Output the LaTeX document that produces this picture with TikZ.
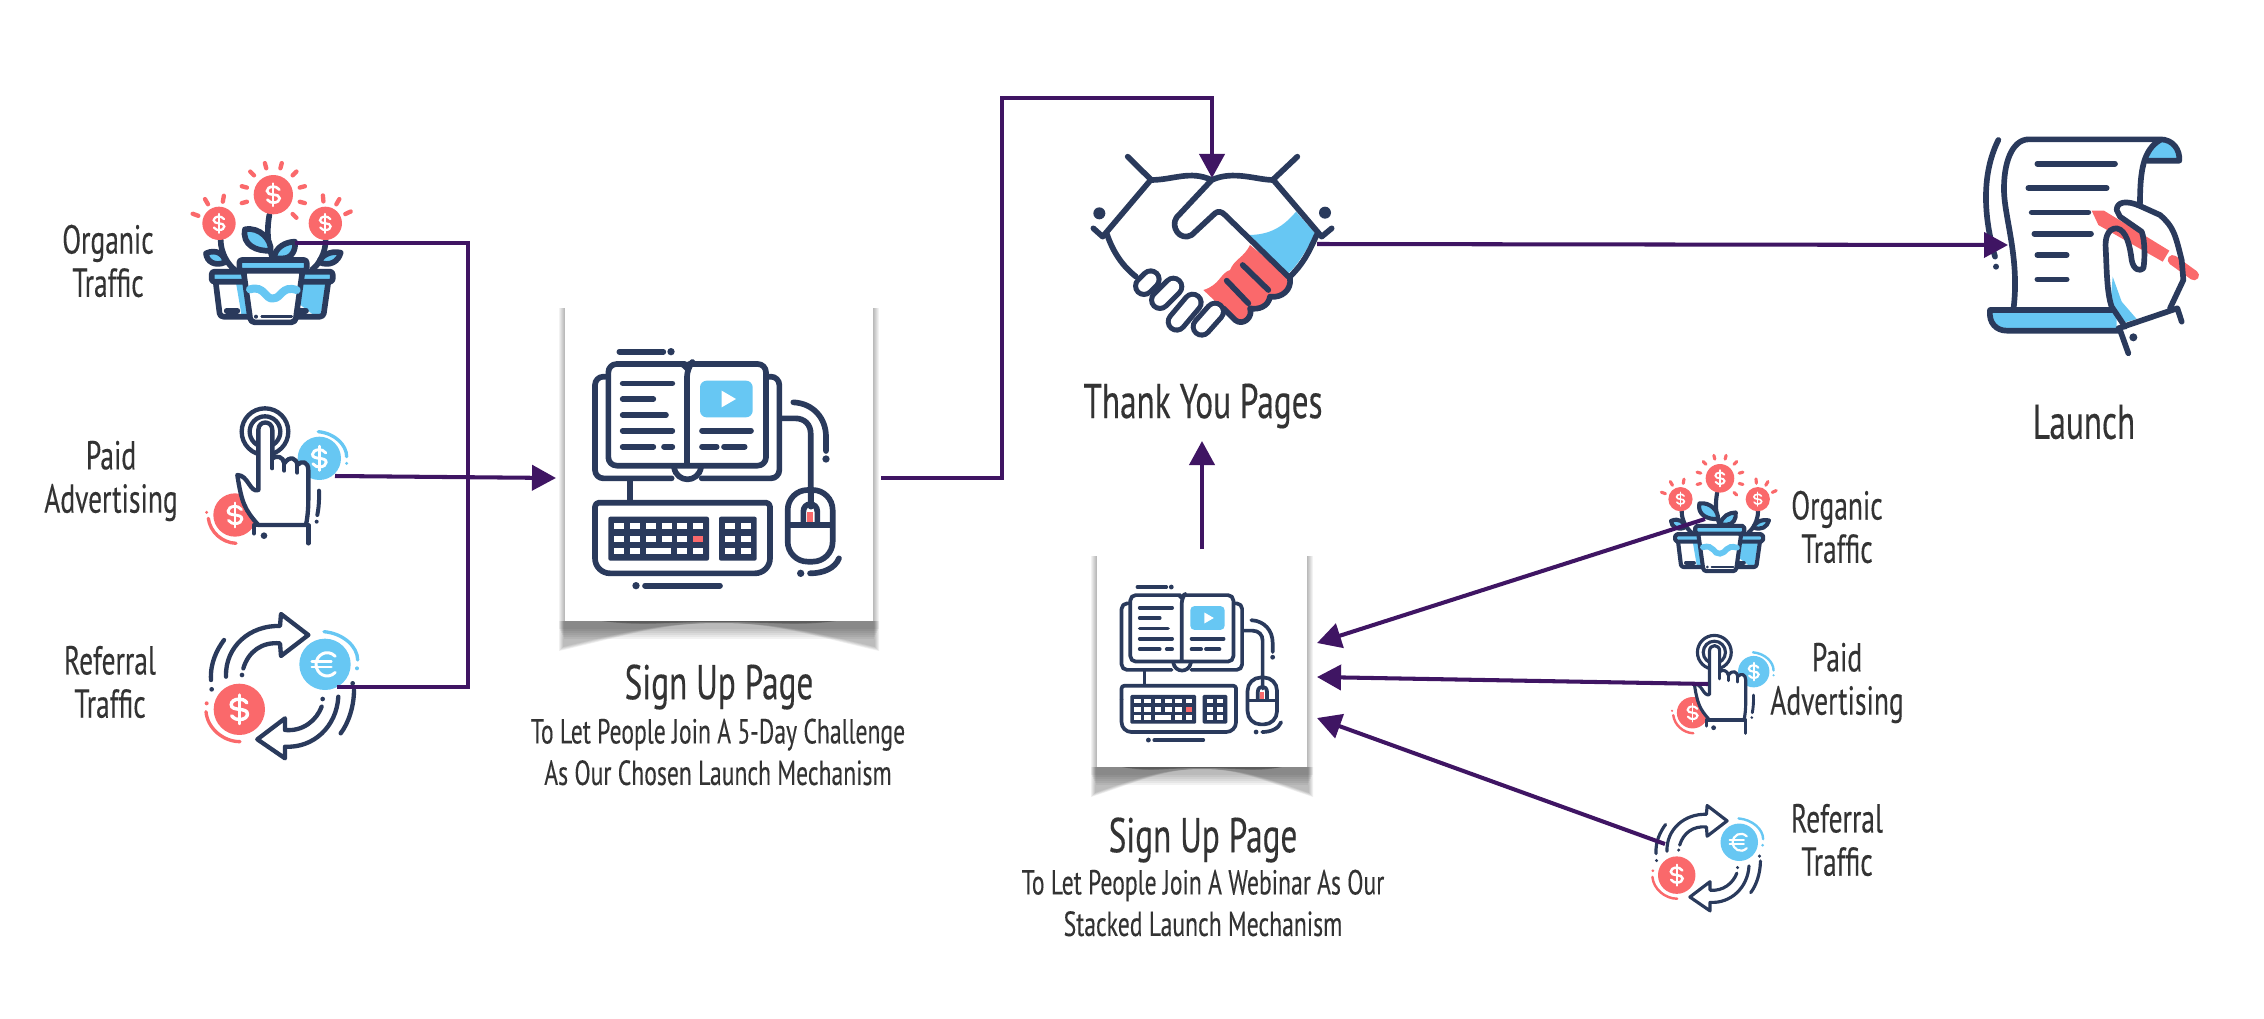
\documentclass[tikz,border=0pt]{standalone}
\usepackage{fontspec}
\setmainfont[FakeStretch=0.68,FakeBold=0.2]{PT Sans}
\usetikzlibrary{arrows.meta}

\definecolor{iconnavy}{HTML}{2A3A5C}
\definecolor{iconred}{HTML}{FA696B}
\definecolor{iconblue}{HTML}{67C7F3}
\definecolor{flowpurple}{HTML}{3F1563}
\definecolor{labelgray}{HTML}{333333}

\tikzset{
    flow/.style={draw=flowpurple,line width=1.15pt},
    flowarrow/.style={flow,-{Triangle[length=0.24cm,width=0.25cm]}},
    label/.style={font=\fontsize{11.5}{12.3}\selectfont,text=labelgray,align=center,inner sep=0pt},
    title/.style={font=\fontsize{13.9}{15}\selectfont,text=labelgray,align=center,inner sep=0pt},
    subtitle/.style={font=\fontsize{9.9}{11.8}\selectfont,text=labelgray,align=center,inner sep=0pt},
    navy/.style={draw=iconnavy,line width=17*\iconu,line cap=round,line join=round},
    iconat/.style n args={3}{shift={(#1,#2)},scale=#3/3},
}

\newcommand{\dollarmark}[3]{
    \begin{scope}[shift={(#1,#2)},scale=#3]
        \draw[white,line width=0.16*#3*\iconu,line cap=round]
            (0.36,-0.3) .. controls (0.25,-0.45) and (0.1,-0.48) .. (0,-0.48)
            .. controls (-0.25,-0.48) and (-0.38,-0.35) .. (-0.38,-0.22)
            .. controls (-0.38,-0.05) and (-0.2,-0.03) .. (0,0)
            .. controls (0.2,0.03) and (0.38,0.05) .. (0.38,0.22)
            .. controls (0.38,0.35) and (0.25,0.48) .. (0,0.48)
            .. controls (-0.1,0.48) and (-0.25,0.45) .. (-0.36,0.3);
        \draw[white,line width=0.13*#3*\iconu,line cap=round] (0,-0.68) -- (0,0.68);
    \end{scope}
}
\newcommand{\euromark}[3]{
    \begin{scope}[shift={(#1,#2)},scale=#3]
        \draw[white,line width=0.14*#3*\iconu,line cap=round]
            (0.48,-0.38) .. controls (0.1,-0.75) and (-0.42,-0.45) .. (-0.42,0)
            .. controls (-0.42,0.45) and (0.1,0.75) .. (0.48,0.38);
        \draw[white,line width=0.12*#3*\iconu,line cap=round] (-0.62,-0.13) -- (0.3,-0.13);
        \draw[white,line width=0.12*#3*\iconu,line cap=round] (-0.62,0.13) -- (0.3,0.13);
    \end{scope}
}

\newcommand{\planticon}[3]{
    \begin{scope}[iconat={#1}{#2}{#3}]
        \pgfmathsetlengthmacro{\iconu}{0.0948pt*#3}
        % stems and leaves
        \draw[navy] (358,255) .. controls (350,300) and (352,340) .. (368,385);
        \draw[navy] (212,330) .. controls (212,370) and (235,405) .. (255,420);
        \draw[navy] (527,330) .. controls (527,370) and (505,405) .. (487,418);
        \draw[navy,fill=iconblue] (285,298) .. controls (330,290) and (365,330) .. (362,362) .. controls (320,365) and (275,345) .. (285,298);
        \draw[navy,fill=iconblue] (372,385) .. controls (375,350) and (410,335) .. (435,335) .. controls (438,360) and (425,385) .. (400,385) -- cycle;
        \draw[navy,fill=iconblue] (168,370) .. controls (200,355) and (225,375) .. (225,397) .. controls (195,410) and (170,395) .. (168,370);
        \draw[navy,fill=iconblue] (572,368) .. controls (540,360) and (510,380) .. (508,397) .. controls (540,410) and (565,395) .. (572,368);
        % side pots
        \fill[white] (197,455) -- (210,560) -- (520,560) -- (535,455) -- cycle;
        \fill[iconblue] (258,458) -- (275,558) -- (295,558) -- (285,458) -- cycle;
        \fill[iconblue] (450,458) -- (445,520) -- (495,558) -- (512,558) -- (527,458) -- cycle;
        \draw[navy,rounded corners=10*\iconu] (197,455) -- (210,560) -- (300,560);
        \draw[navy,rounded corners=10*\iconu] (535,455) -- (520,560) -- (440,560);
        \draw[navy,fill=iconblue,rounded corners=8*\iconu] (185,425) rectangle (290,455);
        \draw[navy,fill=iconblue,rounded corners=8*\iconu] (445,425) rectangle (548,455);
        \draw[navy] (230,542) -- (262,542);
        \draw[navy] (442,542) -- (468,542);
        % front pot
        \draw[navy,fill=white,rounded corners=12*\iconu] (280,420) -- (302,577) -- (436,577) -- (458,420) -- cycle;
        \draw[iconblue,line width=24*\iconu,line cap=round] (300,478) .. controls (345,465) and (345,510) .. (370,505) .. controls (395,505) and (395,465) .. (440,480);
        \draw[navy,fill=iconblue,rounded corners=8*\iconu] (268,390) rectangle (470,422);
        \draw[iconnavy,line width=8*\iconu,line cap=round] (335,560) -- (425,560);
        \fill[iconnavy] (318,560) circle (6);
        % coins
        \fill[iconred] (370,194) circle (59);
        \fill[iconred] (207,280) circle (50);
        \fill[iconred] (526,280) circle (50);
        \dollarmark{370}{194}{50}
        \dollarmark{207}{280}{42}
        \dollarmark{526}{280}{42}
        \foreach \a in {-165,-135,-105,-75,-45,-15,15,45,165}
            \draw[iconred,line width=13*\iconu,line cap=round] ([shift={(\a:82)}]370,194) -- ([shift={(\a:98)}]370,194);
        \foreach \a in {-160,-120,-80}
            \draw[iconred,line width=13*\iconu,line cap=round] ([shift={(\a:66)}]207,280) -- ([shift={(\a:84)}]207,280);
        \foreach \a in {-95,-60,-25}
            \draw[iconred,line width=13*\iconu,line cap=round] ([shift={(\a:66)}]526,280) -- ([shift={(\a:84)}]526,280);
    \end{scope}
}

\newcommand{\handicon}[3]{
    \begin{scope}[iconat={#1}{#2}{#3}]
        \pgfmathsetlengthmacro{\iconu}{0.0948pt*#3}
        \fill[iconblue] (418,205) circle (65);
        \dollarmark{418}{205}{54}
        \draw[iconblue,line width=10*\iconu,line cap=round] (415,125) .. controls (465,130) and (500,165) .. (500,200);
        \fill[iconblue] (500,220) circle (5);
        \fill[iconred] (165,375) circle (65);
        \dollarmark{165}{375}{54}
        \draw[iconred,line width=10*\iconu,line cap=round] (85,385) .. controls (90,425) and (125,458) .. (168,460);
        \fill[iconred] (80,367) circle (5);
        % rings
        \draw[iconnavy,line width=13*\iconu] (255,125) circle (70);
        \draw[iconnavy,line width=13*\iconu] (255,125) circle (46);
        % hand
        \draw[navy,line width=13*\iconu,fill=white] (235,300) -- (235,120) .. controls (235,90) and (277,90) .. (277,120) -- (277,205)
            .. controls (290,195) and (310,200) .. (313,220) .. controls (330,195) and (350,205) .. (352,225) .. controls (365,210) and (385,215) .. (385,240)
            -- (385,330) .. controls (385,360) and (382,385) .. (378,405) -- (235,405)
            .. controls (195,360) and (185,340) .. (172,255) .. controls (205,255) and (210,310) .. (235,300);
        \draw[navy,line width=12*\iconu] (277,205) -- (277,235);
        \draw[navy,line width=12*\iconu] (313,220) -- (313,242);
        \draw[navy,line width=12*\iconu] (352,225) -- (352,248);
        \draw[navy,line width=13*\iconu] (222,430) -- (222,405) -- (385,405) -- (385,460);
        \fill[iconnavy] (252,437) circle (10);
        \draw[navy,line width=12*\iconu] (417,302) .. controls (418,330) and (416,355) .. (412,375);
        \fill[iconnavy] (410,395) circle (6);
    \end{scope}
}

\newcommand{\refericon}[3]{
    \begin{scope}[iconat={#1}{#2}{#3}]
        \pgfmathsetlengthmacro{\iconu}{0.0948pt*#3}
        \draw[navy,line width=13*\iconu] (138,860) .. controls (135,770) and (210,705) .. (300,708) -- (303,672) -- (385,735) -- (303,798) -- (300,760) .. controls (245,755) and (205,785) .. (190,835);
        \fill[iconnavy] (186,855) circle (7);
        \draw[navy,line width=13*\iconu] (93,870) .. controls (90,820) and (110,780) .. (132,750);
        \fill[iconnavy] (95,898) circle (7);
        \draw[navy,line width=13*\iconu] (475,920) .. controls (470,1010) and (400,1075) .. (315,1070) -- (315,1105) -- (232,1048) -- (315,985) -- (315,1020) .. controls (370,1025) and (410,990) .. (425,950);
        \fill[iconnavy] (428,927) circle (7);
        \draw[navy,line width=13*\iconu] (522,900) .. controls (522,950) and (505,1000) .. (482,1030);
        \fill[iconnavy] (518,880) circle (7);
        \fill[iconblue] (435,823) circle (77);
        \euromark{435}{823}{64}
        \draw[iconblue,line width=10*\iconu,line cap=round] (432,725) .. controls (490,730) and (533,770) .. (533,810);
        \fill[iconblue] (531,835) circle (6);
        \fill[iconred] (178,958) circle (77);
        \dollarmark{178}{958}{64}
        \draw[iconred,line width=10*\iconu,line cap=round] (78,965) .. controls (82,1015) and (130,1055) .. (180,1055);
        \fill[iconred] (80,940) circle (6);
    \end{scope}
}

\newcommand{\signbox}[4]{
    \foreach \i in {1,...,6}
        \fill[black,opacity=0.05] (#1-\i,#2+6) rectangle (#3+\i,#4+20-2*\i);
    \foreach \i in {0,...,4}
        \fill[black,opacity=0.06] (#1-6+\i,#4) -- (#1-6+\i,#4+30-\i) .. controls ({#1+0.22*(#3-#1)},#4+13-\i) and ({#1+0.32*(#3-#1)},#4+2) .. ({(#1+#3)/2},#4+2) .. controls ({#3-0.32*(#3-#1)},#4+2) and ({#3-0.22*(#3-#1)},#4+13-\i) .. (#3+6-\i,#4+30-\i) -- (#3+6-\i,#4) -- cycle;
    \foreach \i in {1,...,3}
        \fill[black,opacity=0.12] ({#1+0.12*(#3-#1)},#4) .. controls ({#1+0.25*(#3-#1)},#4+7-\i) and ({#1+0.33*(#3-#1)},#4+1) .. ({(#1+#3)/2},#4+1) .. controls ({#3-0.33*(#3-#1)},#4+1) and ({#3-0.25*(#3-#1)},#4+7-\i) .. ({#3-0.12*(#3-#1)},#4) -- cycle;
    \fill[white] (#1,#2) rectangle (#3,#4);
}

\newcommand{\computericon}[3]{
    \begin{scope}[iconat={#1}{#2}{#3}]
        \pgfmathsetlengthmacro{\iconu}{0.0948pt*#3}
        \draw[navy] (238,185) -- (370,185);
        \fill[iconnavy] (393,185) circle (11);
        \draw[navy,rounded corners=25*\iconu] (197,260) -- (165,260) -- (165,565) -- (395,565);
        \draw[navy,rounded corners=25*\iconu] (686,260) -- (718,260) -- (718,565) -- (485,565);
        \draw[navy] (402,532) .. controls (410,580) and (475,580) .. (483,532);
        \draw[navy,rounded corners=25*\iconu] (441,235) .. controls (430,222) and (420,222) .. (410,222) -- (205,222) -- (205,527) -- (678,527) -- (678,222) -- (472,222) .. controls (462,222) and (452,222) .. (441,235) -- (441,527);
        \foreach \ya/\xa/\xb in {280/248/397,327/248/340,375/248/378,422/248/397,470/248/340,470/372/397,422/486/633,470/486/530,470/552/614}
            \draw[navy] (\xa,\ya) -- (\xb,\ya);
        \fill[iconblue,rounded corners=20*\iconu] (480,272) rectangle (638,382);
        \fill[white] (545,302) -- (588,327) -- (545,352) -- cycle;
        \draw[navy] (270,570) -- (270,632);
        \draw[navy,rounded corners=12*\iconu] (690,700) -- (690,638) -- (165,638) -- (165,700);
        \draw[navy,rounded corners=45*\iconu] (165,700) -- (165,850) -- (690,850) -- (690,700);
        \fill[iconnavy,rounded corners=6*\iconu] (205,680) rectangle (507,812);
        \fill[iconnavy,rounded corners=6*\iconu] (537,680) rectangle (650,812);
        \foreach \kx in {222,270,317,365,412}
            \foreach \ky in {698,737} \fill[white] (\kx,\ky) rectangle (\kx+30,\ky+19);
        \fill[white] (460,698) rectangle (490,717);
        \fill[iconred] (460,737) rectangle (490,756);
        \foreach \kx in {222,270,412,460} \fill[white] (\kx,774) rectangle (\kx+30,793);
        \fill[white] (317,774) rectangle (393,793);
        \foreach \kx in {555,602}
            \foreach \ky in {698,737,774} \fill[white] (\kx,\ky) rectangle (\kx+30,\ky+19);
        \fill[iconnavy] (288,887) circle (11);
        \draw[navy] (315,887) -- (540,887);
        \draw[navy] (722,385) -- (765,385) .. controls (795,385) and (812,405) .. (812,430) -- (812,640);
        \draw[navy] (760,337) .. controls (820,340) and (858,385) .. (858,440) -- (858,483);
        \fill[iconnavy] (858,507) circle (11);
        \draw[navy,rounded corners=60*\iconu] (743,600) rectangle (878,815);
        \draw[navy] (745,705) -- (875,705);
        \fill[iconred] (802,665) rectangle (820,697);
        \draw[navy] (790,700) -- (790,665) .. controls (790,635) and (832,635) .. (832,665) -- (832,700);
        \draw[navy] (812,600) -- (812,650);
        \fill[iconnavy] (782,850) circle (11);
        \draw[navy] (810,850) .. controls (850,850) and (885,835) .. (897,805);
    \end{scope}
}

\newcommand{\shakeicon}[3]{
    \begin{scope}[iconat={#1}{#2}{#3}]
        \pgfmathsetlengthmacro{\iconu}{0.0948pt*#3}
        \fill[iconblue] (565,315) .. controls (630,315) and (670,290) .. (708,245) -- (770,315) .. controls (740,350) and (720,400) .. (685,430) -- cycle;
        \fill[iconred] (570,345) -- (685,440) .. controls (695,480) and (665,505) .. (630,500) .. controls (625,530) and (595,540) .. (570,535) .. controls (580,560) and (550,590) .. (525,570) -- (430,480) .. controls (480,465) and (480,430) .. (510,420) .. controls (525,385) and (550,385) .. (570,345);
        \draw[navy] (203,80) -- (272,148);
        \draw[navy] (712,80) -- (640,148);
        \fill[iconnavy] (118,250) circle (18);
        \fill[iconnavy] (795,248) circle (18);
        \draw[navy] (100,295) -- (128,320) -- (272,150) .. controls (340,150) and (390,120) .. (455,150) .. controls (520,120) and (590,150) .. (640,150) -- (785,320) -- (815,295);
        \draw[navy] (140,310) .. controls (160,370) and (190,410) .. (228,440);
        \draw[navy] (770,315) .. controls (745,370) and (730,400) .. (690,440);
        \draw[navy] (455,150) -- (350,262) .. controls (330,290) and (360,335) .. (395,315) -- (465,250) .. controls (475,242) and (485,245) .. (495,255) -- (685,440);
        \draw[navy] (690,445) .. controls (695,480) and (665,505) .. (630,500) .. controls (625,530) and (595,540) .. (570,535) .. controls (580,560) and (550,590) .. (525,570) -- (490,535);
        \draw[navy] (548,405) -- (625,480);
        \draw[navy] (500,452) -- (565,520);
        \foreach \xa/\ya/\xb/\yb in {252/468/272/448,300/510/340/470,350/575/398/518,425/590/465/545} {
            \draw[iconnavy,line width=66*\iconu,line cap=round] (\xa,\ya) -- (\xb,\yb);
            \draw[white,line width=35*\iconu,line cap=round] (\xa,\ya) -- (\xb,\yb);
        }
    \end{scope}
}

\newcommand{\scrollicon}[3]{
    \begin{scope}[iconat={#1}{#2}{#3}]
        \pgfmathsetlengthmacro{\iconu}{0.0948pt*#3}
        \fill[iconblue] (155,578) -- (530,578) -- (530,625) -- (195,625) .. controls (170,622) and (158,605) .. (155,578);
        \fill[iconblue] (622,115) .. controls (630,90) and (640,75) .. (665,65) .. controls (695,70) and (712,90) .. (716,115) -- cycle;
        \fill[iconblue] (518,470) -- (545,545) -- (590,597) -- (555,607) -- (512,540) -- cycle;
        \draw[navy] (175,60) .. controls (130,150) and (125,270) .. (165,410);
        \fill[iconnavy] (168,440) circle (9);
        \draw[navy] (220,570) .. controls (240,420) and (195,300) .. (192,215) .. controls (190,130) and (215,60) .. (265,58) -- (660,58) .. controls (700,58) and (720,90) .. (718,122) -- (620,122);
        \draw[navy] (660,60) .. controls (610,90) and (600,150) .. (600,250);
        \draw[navy] (520,570) -- (150,570) .. controls (145,610) and (170,632) .. (200,632) -- (540,632);
        \foreach \ya/\xa/\xb in {131/292/525,204/265/500,277/275/445,341/283/453,405/292/380,478/292/380}
            \draw[navy] (\xa,\ya) -- (\xb,\ya);
        \fill[iconred] (455,272) -- (492,272) -- (688,392) -- (668,425) -- (475,315) -- cycle;
        \draw[iconred,line width=30*\iconu,line cap=round] (698,420) -- (762,466);
        \draw[navy] (690,565) -- (730,480) -- (725,420) .. controls (705,340) and (700,320) .. (660,285) -- (600,258) .. controls (560,240) and (530,245) .. (530,270) -- (540,290) -- (605,335) .. controls (615,360) and (615,420) .. (610,445) .. controls (600,455) and (580,450) .. (575,420) .. controls (570,380) and (560,330) .. (530,325) .. controls (500,325) and (495,360) .. (497,385) .. controls (500,440) and (500,520) .. (515,560) -- (555,620);
        \draw[navy] (535,625) -- (712,565) -- (725,605);
        \draw[navy] (540,630) -- (565,700);
        \fill[iconnavy] (580,652) circle (12);
    \end{scope}
}

\begin{document}
\begin{tikzpicture}[x=0.01cm,y=-0.01cm]
    \useasboundingbox (0,0) rectangle (2264,1018);

    \planticon{150}{130}{1}
    \handicon{180}{390}{1}
    \refericon{180}{390}{1}
    \signbox{565}{302}{873}{621}
    \computericon{540}{290}{1}
    \shakeicon{1060}{130}{1}
    \scrollicon{1940}{120}{1}

    \signbox{1097}{550}{1307}{767}
    \computericon{1085.6}{546.7}{0.654}
    \planticon{1630.3}{431.3}{0.727}
    \handicon{1652.7}{622.1}{0.725}
    \refericon{1633.4}{642}{0.73}

    \node[label] (organicA) at (108,261) {Organic\\Traffic};
    \node[label] (paidA) at (111,481) {Paid\\Advertising};
    \node[label] (referralA) at (110,682) {Referral\\Traffic};
    \node[title] (signupA) at (719,687) {Sign Up Page};
    \node[subtitle] (signuptextA) at (718,752) {To Let People Join A 5-Day Challenge\\As Our Chosen Launch Mechanism};
    \node[title] (thanks) at (1203,406) {Thank You Pages};
    \node[title] (launch) at (2084,422) {Launch};
    \node[title] (signupB) at (1203,840) {Sign Up Page};
    \node[subtitle] (signuptextB) at (1203,903) {To Let People Join A Webinar As Our\\Stacked Launch Mechanism};
    \node[label] (organicB) at (1837,527) {Organic\\Traffic};
    \node[label] (paidB) at (1837,683) {Paid\\Advertising};
    \node[label] (referralB) at (1837,840) {Referral\\Traffic};

    \coordinate (plantA) at (295,243);
    \coordinate (handA) at (335,476);
    \coordinate (refA) at (337,687);
    \coordinate (bus) at (468,243);
    \coordinate (signinA) at (556,478);
    \coordinate (signout) at (881,478);
    \coordinate (topbend) at (1002,98);
    \coordinate (shakein) at (1212,178);
    \coordinate (shakeout) at (1317,244);
    \coordinate (scrollin) at (2008,245);
    \coordinate (signtop) at (1202,549);
    \coordinate (thankin) at (1202,441);
    \coordinate (plantB) at (1705,519);
    \coordinate (handB) at (1708,684);
    \coordinate (refB) at (1665,844);
    \coordinate (signinP) at (1317,643);
    \coordinate (signinH) at (1317,677);
    \coordinate (signinR) at (1317,718);

    \draw[flow] (plantA) -- (bus) |- (refA);
    \draw[flowarrow] (handA) -- (signinA);
    \draw[flowarrow] (signout) -| (topbend) -| (shakein);
    \draw[flowarrow] (shakeout) -- (scrollin);
    \draw[flowarrow] (signtop) -- (thankin);
    \draw[flowarrow] (plantB) -- (signinP);
    \draw[flowarrow] (handB) -- (signinH);
    \draw[flowarrow] (refB) -- (signinR);
\end{tikzpicture}
\end{document}
